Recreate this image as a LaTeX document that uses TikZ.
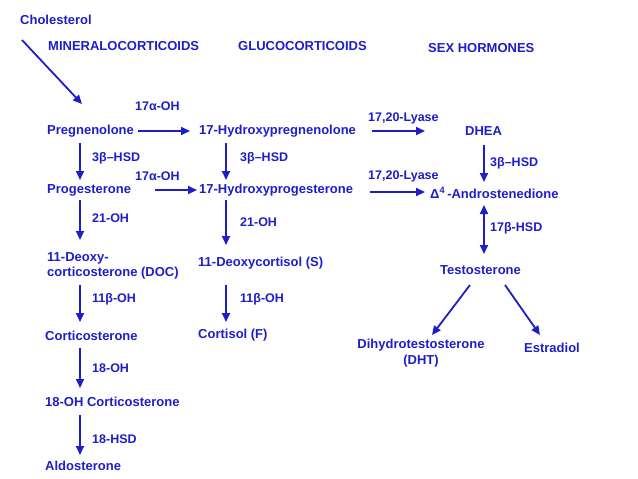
\documentclass[tikz,border=0pt]{standalone}
\usepackage{fontspec}
\setmainfont{Liberation Sans}
\usetikzlibrary{arrows.meta}
\definecolor{bl}{RGB}{30,30,200}
\begin{document}
\begin{tikzpicture}[x=1pt,y=-1pt,
  t/.style={anchor=west,inner sep=0pt,text=bl,font=\bfseries\fontsize{13}{15.5}\selectfont},
  lb/.style={anchor=west,inner sep=0pt,text=bl,font=\bfseries\fontsize{12.5}{14}\selectfont},
  ar/.style={draw=bl,line width=1.8pt,-{Triangle[length=9pt,width=8pt]}},
  dar/.style={draw=bl,line width=1.8pt,{Triangle[length=9pt,width=8pt]}-{Triangle[length=9pt,width=8pt]}}]
\useasboundingbox (0,0) rectangle (638,479);
\node[t] (chol) at (20,20) {Cholesterol};
\node[t] (min) at (48,46) {MINERALOCORTICOIDS};
\node[t] (glu) at (238,46) {GLUCOCORTICOIDS};
\node[t] (sex) at (428,48) {SEX HORMONES};
\node[t] (preg) at (47,131) {Pregnenolone};
\node[t] (hpreg) at (199,131) {17-Hydroxypregnenolone};
\node[t] (dhea) at (465,131) {DHEA};
\node[t] (prog) at (47,190) {Progesterone};
\node[t] (hprog) at (199,190) {17-Hydroxyprogesterone};
\node[t] (andro) at (430,193) {Δ\textsuperscript{4}\,-Androstenedione};
\node[t,align=left] (doc) at (47,266) {11-Deoxy-\\corticosterone (DOC)};
\node[t] (dcort) at (198,263) {11-Deoxycortisol (S)};
\node[t] (testo) at (440,270) {Testosterone};
\node[t,align=center,anchor=north] (dht) at (421,339) {Dihydrotestosterone\\(DHT)};
\node[t] (estr) at (524,348) {Estradiol};
\node[t] (corti) at (45,336) {Corticosterone};
\node[t] (cortf) at (198,335) {Cortisol (F)};
\node[t] (ohc) at (45,402) {18-OH Corticosterone};
\node[t] (aldo) at (45,466) {Aldosterone};
% labels
\node[lb] at (135,106) {17α-OH};
\node[lb] at (368,118) {17,20-Lyase};
\node[lb] at (92,158) {3β–HSD};
\node[lb] at (240,158) {3β–HSD};
\node[lb] at (490,163) {3β–HSD};
\node[lb] at (135,176) {17α-OH};
\node[lb] at (368,176) {17,20-Lyase};
\node[lb] at (92,218) {21-OH};
\node[lb] at (240,222) {21-OH};
\node[lb] at (490,228) {17β-HSD};
\node[lb] at (92,299) {11β-OH};
\node[lb] at (240,299) {11β-OH};
\node[lb] at (92,368) {18-OH};
\node[lb] at (92,439) {18-HSD};
\coordinate (c0) at (22,40); \coordinate (c1) at (82,104);
\coordinate (h1) at (190,131); \coordinate (h2) at (372,131); \coordinate (h3) at (425,131);
\coordinate (p1) at (155,190); \coordinate (p2) at (197,190);
\coordinate (p3) at (370,192); \coordinate (p4) at (425,192);
\draw[ar] (c0) -- (c1);
\draw[ar] ([xshift=4pt]preg.east) -- (h1);
\draw[ar] (h2) -- (h3);
\draw[ar] (p1) -- (p2);
\draw[ar] (p3) -- (p4);
\draw[ar] (80,143) -- (80,180);
\draw[ar] (226,143) -- (226,180);
\draw[ar] (484,145) -- (484,182);
\draw[ar] (80,200) -- (80,240);
\draw[ar] (226,200) -- (226,245);
\draw[dar] (484,205) -- (484,254);
\draw[ar] (80,285) -- (80,322);
\draw[ar] (226,285) -- (226,322);
\draw[ar] (470,285) -- (432,335);
\draw[ar] (505,285) -- (540,335);
\draw[ar] (80,348) -- (80,388);
\draw[ar] (80,415) -- (80,455);
\end{tikzpicture}
\end{document}
